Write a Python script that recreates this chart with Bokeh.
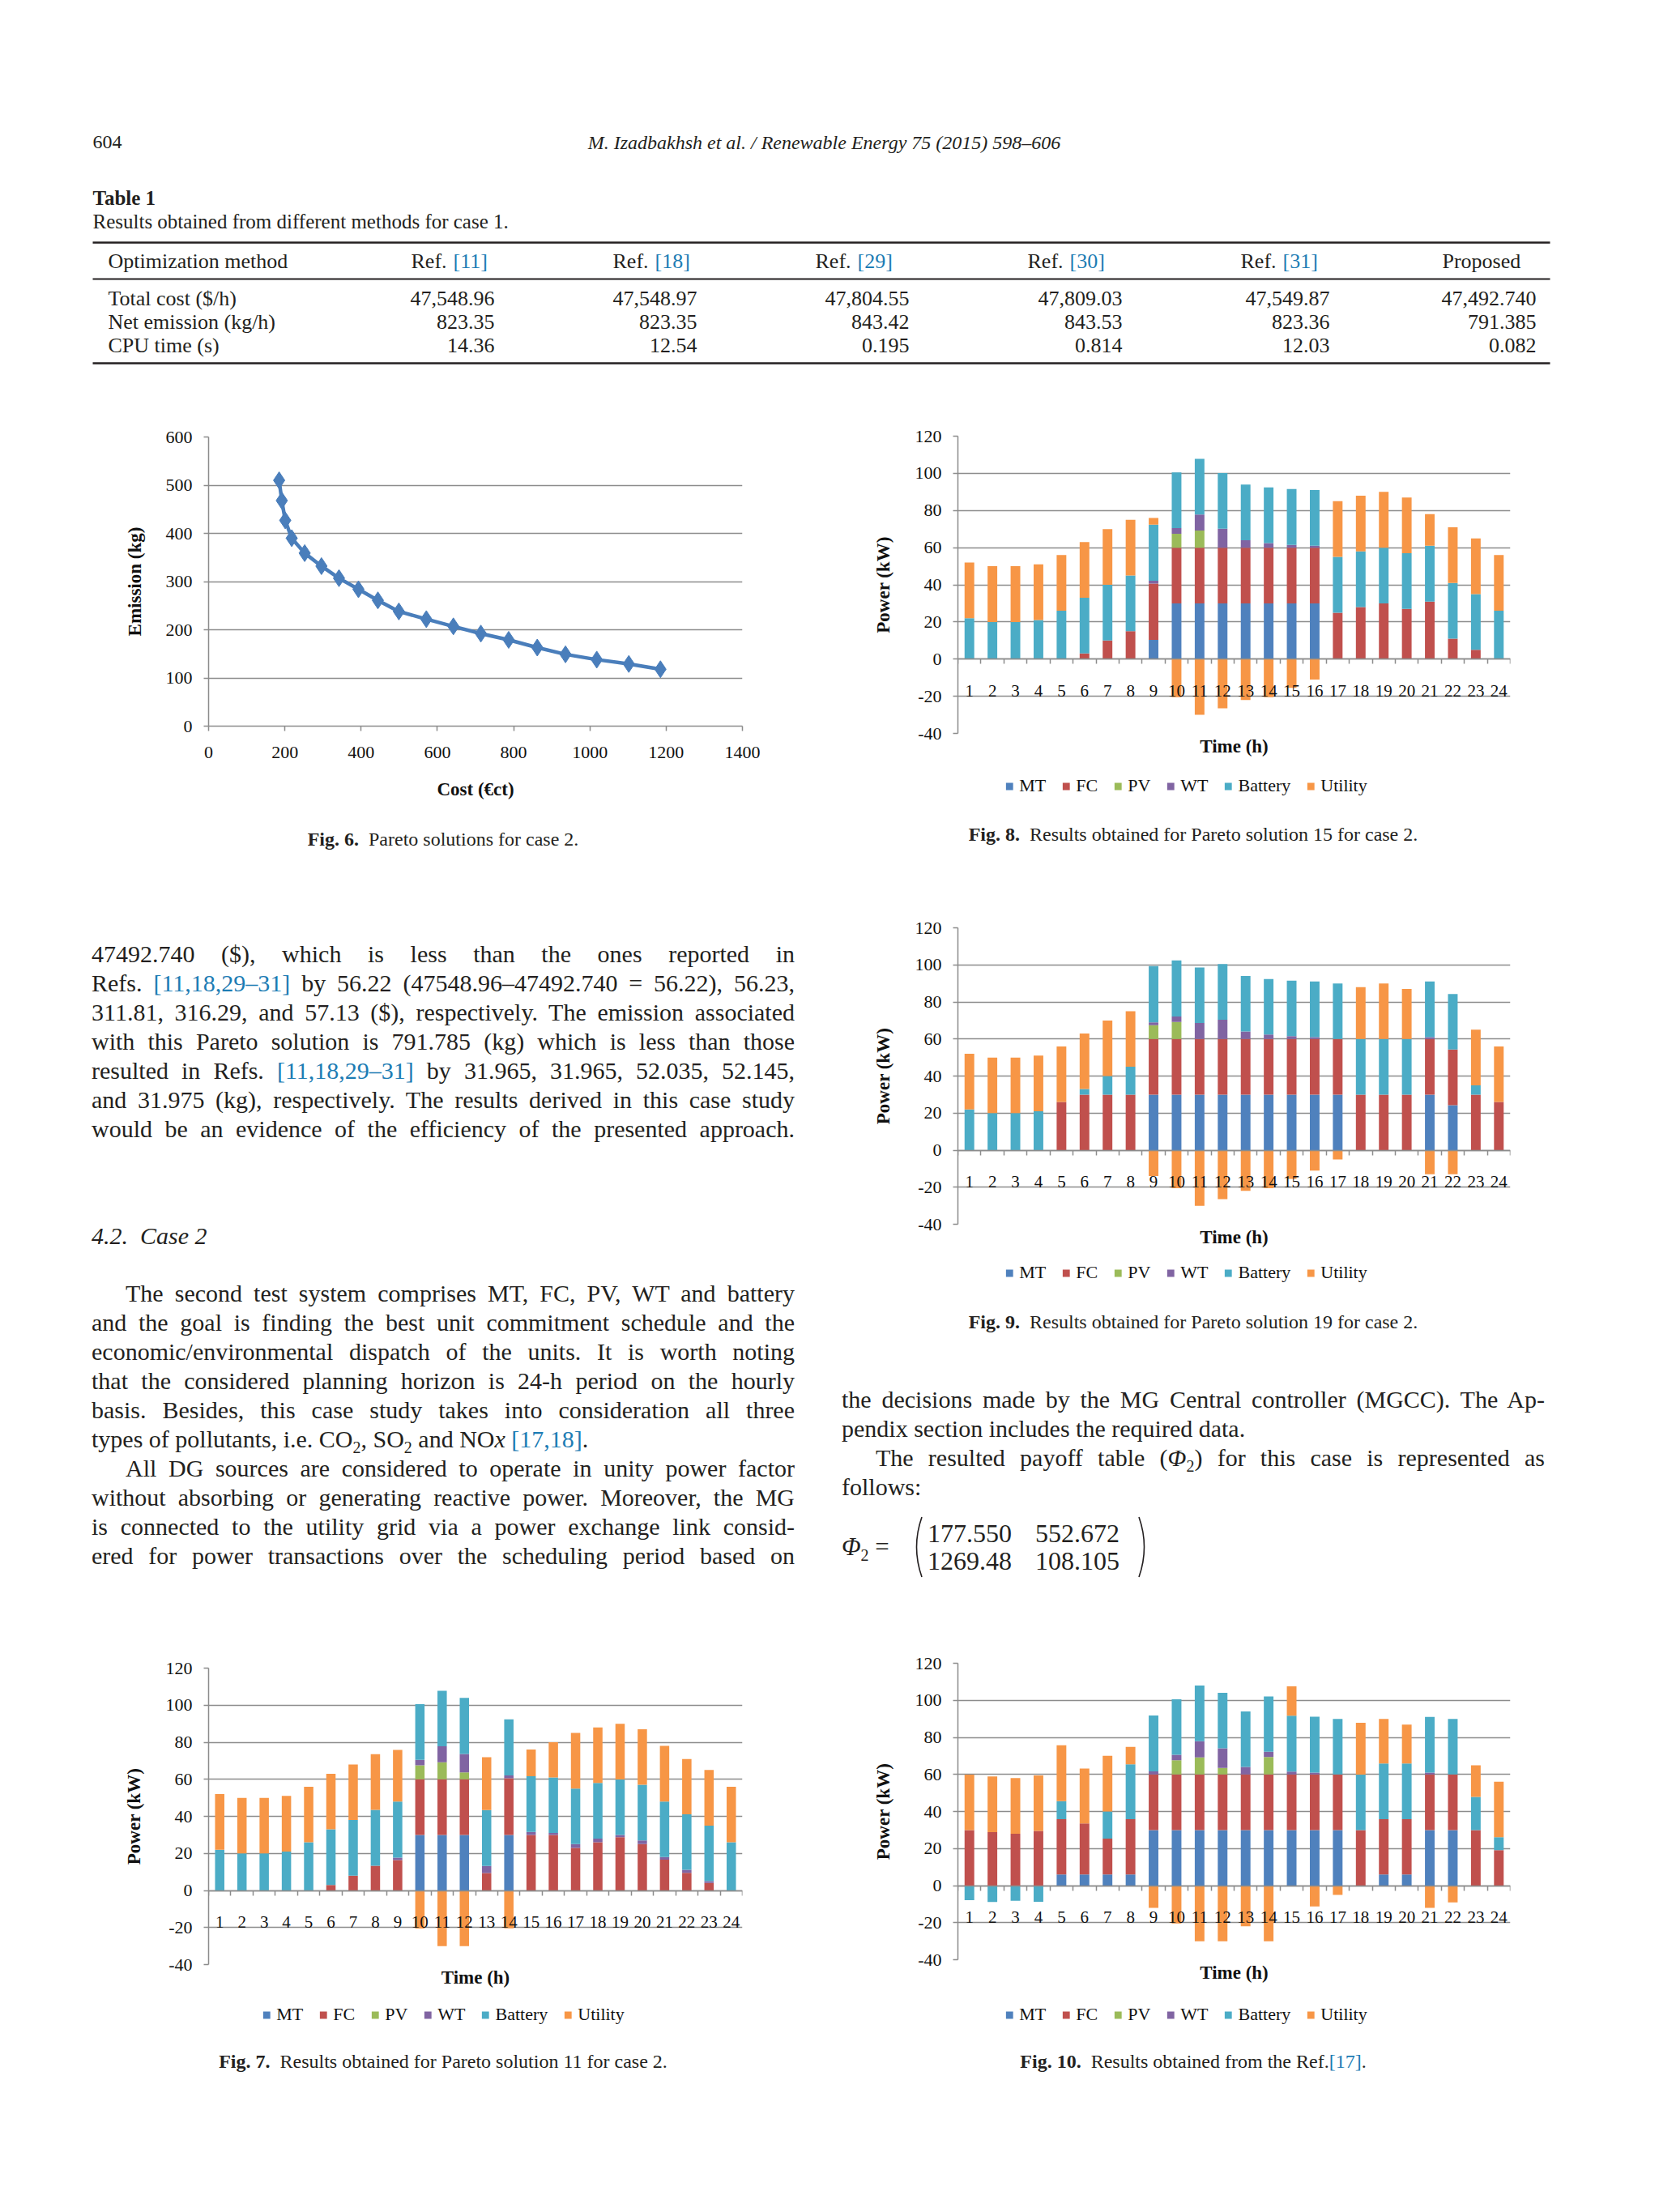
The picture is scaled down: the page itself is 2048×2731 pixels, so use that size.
from bokeh.plotting import figure
from bokeh.models import Range1d, FixedTicker, Legend, LegendItem, Title, Div, ColumnDataSource, Spacer
from bokeh.layouts import column, row
from bokeh.embed import file_html
from bokeh.resources import INLINE
from bokeh.core.properties import value

SERIF = "Liberation Serif"
GRID = "#8c8c8c"
TXT = "#231f20"
REF = "#1c7cb4"

# ---------------- data ----------------
# Table 1
table_methods = ["Ref. [11]", "Ref. [18]", "Ref. [29]", "Ref. [30]", "Ref. [31]", "Proposed"]
table_rows = ["Total cost ($/h)", "Net emission (kg/h)", "CPU time (s)"]
total_cost = ["47,548.96", "47,548.97", "47,804.55", "47,809.03", "47,549.87", "47,492.740"]
net_emission = ["823.35", "823.35", "843.42", "843.53", "823.36", "791.385"]
cpu_time = ["14.36", "12.54", "0.195", "0.814", "12.03", "0.082"]

# Fig. 6 Pareto front
pareto_cost = [185, 192, 201, 218, 252, 296, 342, 393, 444, 499, 571, 642, 714, 787, 862, 936, 1018, 1102, 1185]
pareto_emission = [510, 468, 427, 390, 359, 332, 307, 284, 261, 238, 222, 207, 192, 179, 163, 149, 138, 129, 118]
fig6_xticks = [0, 200, 400, 600, 800, 1000, 1200, 1400]
fig6_yticks = [0, 100, 200, 300, 400, 500, 600]

hours = list(range(1, 25))
power_ticks = [-40, -20, 0, 20, 40, 60, 80, 100, 120]
series_names = ["MT", "FC", "PV", "WT", "Battery", "Utility"]
series_colors = ["#4F81BD", "#C0504D", "#9BBB59", "#8064A2", "#4BACC6", "#F79646"]

# Fig. 7 - Pareto solution 11
f7_mt = [0, 0, 0, 0, 0, 0, 0, 0, 0, 30, 30, 30, 0, 30, 0, 0, 0, 0, 0, 0, 0, 0, 0, 0]
f7_fc = [0, 0, 0, 0, 0, 3, 8, 13.3, 16.4, 30, 30, 30, 9.4, 30.5, 30, 30, 23, 26, 28.7, 25, 16.6, 9.5, 4, 0]
f7_pv = [0, 0, 0, 0, 0, 0, 0, 0, 0, 7.5, 9.2, 3.7, 0, 0, 0, 0, 0, 0, 0, 0, 0, 0, 0, 0]
f7_wt = [0, 0, 0, 0, 0, 0, 0, 0, 1.3, 3, 8.6, 10, 3.8, 1.6, 1.6, 1, 2, 2, 1.2, 2, 1.4, 1.6, 1, 0]
f7_bat = [22, 20, 20, 21, 26, 30, 30, 30.2, 30.3, 30, 30, 30.2, 30.2, 30.2, 30, 30, 30, 30, 30, 30, 30, 30, 30, 26]
f7_util = [30, 30, 30, 30, 30, 30, 30, 30.1, 27.9, -20.5, -30, -30, 28.5, -20.4, 14.5, 19, 30, 30, 30, 30, 30, 29.8, 30, 30]

# Fig. 8 - Pareto solution 15
f8_mt = [0, 0, 0, 0, 0, 0, 0, 0, 10.4, 30, 30, 30, 30, 30, 30, 30, 0, 0, 0, 0, 0, 0, 0, 0]
f8_fc = [0, 0, 0, 0, 0, 3, 10, 15, 30.2, 30, 30, 30, 30, 30, 30, 30, 25, 28, 30, 27, 31, 11, 5, 0]
f8_pv = [0, 0, 0, 0, 0, 0, 0, 0, 0, 7.5, 9.2, 0, 0, 0, 0, 0, 0, 0, 0, 0, 0, 0, 0, 0]
f8_wt = [0, 0, 0, 0, 0, 0, 0, 0, 1.6, 3, 8.6, 10.2, 4, 2.4, 1.5, 1, 0, 0, 0, 0, 0, 0, 0, 0]
f8_bat = [22, 20, 20, 21, 26, 30, 30, 30, 30.2, 30, 30, 30, 30, 30, 30, 30, 30, 30, 30, 30, 30, 30, 30, 26]
f8_util = [30, 30, 30, 30, 30, 30, 30, 30, 3.6, -20.5, -30, -26.5, -22, -20.5, -15.5, -11, 30, 30, 30, 30, 17, 30, 30, 30]

# Fig. 9 - Pareto solution 19
f9_mt = [0, 0, 0, 0, 0, 0, 0, 0, 30, 30, 30, 30, 30, 30, 30, 30, 30, 0, 0, 0, 30, 24.3, 0, 0]
f9_fc = [0, 0, 0, 0, 26, 30, 30, 30, 30, 30, 30, 30, 30, 30, 30, 30, 30, 30, 30, 30, 30, 30, 30, 26]
f9_pv = [0, 0, 0, 0, 0, 0, 0, 0, 7.4, 9.2, 0, 0, 0, 0, 0, 0, 0, 0, 0, 0, 0, 0, 0, 0]
f9_wt = [0, 0, 0, 0, 0, 0, 0, 0, 1.6, 2.9, 8.6, 10.4, 4, 2.4, 1.5, 1, 0, 0, 0, 0, 1, 0, 0, 0]
f9_bat = [22, 20, 20, 21, 0, 3, 10, 15, 30.3, 30.3, 30, 30, 30, 30, 30, 30, 30, 30, 30, 30, 30, 30, 5, 0]
f9_util = [30, 30, 30, 30, 30, 30, 30, 30, -14, -20.5, -30, -26.5, -22, -20.5, -15.5, -11, -5, 28, 30, 27, -13, -13, 30, 30]

# Fig. 10 - Ref. [17]
f10_mt = [0, 0, 0, 0, 6, 6, 6, 6, 30, 30, 30, 30, 30, 30, 30, 30, 30, 0, 6, 6, 30, 30, 0, 0]
f10_fc = [29.9, 28.9, 28, 29.5, 29.8, 27.6, 19.4, 29.9, 30, 30, 30, 30, 30, 30, 30, 30, 30, 29.9, 29.9, 29.9, 30, 30, 29.9, 19.1]
f10_pv = [0, 0, 0, 0, 0, 0, 0, 0, 0, 7.6, 9.2, 3.5, 0, 9.4, 0, 0, 0, 0, 0, 0, 0, 0, 0, 0]
f10_wt = [0, 0, 0, 0, 0, 0, 0, 0, 1.6, 3, 8.7, 10.6, 4, 2.8, 1.5, 1, 0, 0, 0, 0, 1, 0, 0, 0]
f10_bat = [-7.9, -8.8, -8.2, -8.7, 9.8, 0, 14.6, 29.6, 30.2, 30, 30.1, 29.9, 30, 29.9, 30.2, 30.2, 29.9, 30, 30, 30, 30, 29.9, 18, 7]
f10_util = [30, 30, 30, 30, 30.1, 29.6, 30.1, 9.4, -12, -20.4, -30, -30, -22, -30, 15.8, -11.3, -5, 28, 24, 21, -12, -9.1, 17, 30]


# ---------------- helpers ----------------
def stack(series_list):
    pos = [0.0] * len(hours)
    neg = [0.0] * len(hours)
    out = []
    for vals in series_list:
        b, t = [], []
        for i, v in enumerate(vals):
            if v >= 0:
                b.append(pos[i]); t.append(pos[i] + v); pos[i] += v
            else:
                b.append(neg[i]); t.append(neg[i] + v); neg[i] += v
        out.append((b, t))
    return out


def style_axis(ax, size="21px"):
    ax.axis_line_color = GRID
    ax.axis_line_width = 1.5
    ax.major_tick_line_color = GRID
    ax.major_tick_line_width = 1.5
    ax.minor_tick_line_color = None
    ax.major_label_text_font = SERIF
    ax.major_label_text_font_size = size
    ax.major_label_text_color = "#111111"
    ax.axis_label_text_font = SERIF
    ax.axis_label_text_font_size = "23px"
    ax.axis_label_text_font_style = "bold"
    ax.axis_label_text_color = "#111111"


def bar_chart(series, top, frame_h, bottom, left, frame_w, right):
    p = figure(width=left + frame_w + right, height=top + frame_h + bottom,
               x_range=Range1d(0.5, 24.5), y_range=Range1d(-40, 120),
               output_backend="svg", toolbar_location=None,
               min_border_left=left, min_border_right=right,
               min_border_top=top, min_border_bottom=bottom,
               background_fill_color="white", border_fill_color="white")
    p.outline_line_color = None
    p.xgrid.visible = False
    p.ygrid.grid_line_color = GRID
    p.ygrid.grid_line_width = 1.5
    p.yaxis.ticker = FixedTicker(ticks=power_ticks)
    style_axis(p.yaxis[0], "22px")
    p.yaxis.major_label_overrides = {t: str(t) for t in power_ticks}
    p.yaxis.major_tick_in = 0
    p.yaxis.major_tick_out = 6
    p.yaxis.major_label_standoff = 14
    p.yaxis.axis_label = "Power (kW)"
    p.yaxis.axis_label_standoff = 24

    boundaries = [h - 0.5 for h in hours] + [hours[-1] + 0.5]
    p.xaxis.ticker = FixedTicker(ticks=hours, minor_ticks=boundaries)
    p.xaxis.fixed_location = 0
    style_axis(p.xaxis[0])
    p.xaxis.major_tick_in = 0
    p.xaxis.major_tick_out = 0
    p.xaxis.minor_tick_line_color = GRID
    p.xaxis.minor_tick_line_width = 1.5
    p.xaxis.minor_tick_in = 0
    p.xaxis.minor_tick_out = 6
    p.xaxis.major_label_standoff = 26

    sources = []
    for (b, t), name, col in zip(stack(series), series_names, series_colors):
        src = ColumnDataSource(dict(x=hours, bottom=b, top=t))
        p.vbar(x="x", bottom="bottom", top="top", width=0.42, source=src,
               fill_color=col, line_color=None)
        sources.append(src)

    p.add_layout(Title(text="Time (h)", align="center", text_font=SERIF,
                       text_font_size="23px", text_font_style="bold",
                       text_color="#111111", standoff=2), "below")
    return p, sources


def legend_fig(width, height, sources):
    # the series legend of a chart, drawn in a strip under the chart
    p = figure(width=width, height=height, x_range=Range1d(0.5, 24.5), y_range=Range1d(500, 501),
               output_backend="svg", toolbar_location=None, min_border=0,
               x_axis_type=None, y_axis_type=None,
               background_fill_color="white", border_fill_color="white")
    p.grid.visible = False
    p.outline_line_color = None
    items = []
    for src, name, col in zip(sources, series_names, series_colors):
        r = p.vbar(x="x", bottom="bottom", top="top", width=0.42, source=src,
                   fill_color=col, line_color=None)
        items.append(LegendItem(label=name, renderers=[r]))
    leg = Legend(items=items, orientation="horizontal", location="center",
                 glyph_width=11, glyph_height=11, label_standoff=7, spacing=19,
                 padding=0, margin=0, border_line_color=None,
                 background_fill_alpha=0,
                 label_text_font=SERIF, label_text_font_size="22px",
                 label_text_color="#111111")
    p.add_layout(leg)
    return p


def text_block(width, height, items, lh=36):
    parts = [f'<div style="position:relative;width:{width}px;height:{height}px;'
             f'font-family:\'{SERIF}\',serif;color:{TXT};">']
    for it in items:
        x, yc, w, html, align, size = it[:6]
        extra = it[6] if len(it) > 6 else ""
        parts.append(
            f'<div style="position:absolute;left:{x}px;top:{yc - lh / 2}px;width:{w}px;'
            f'height:{lh}px;line-height:{lh}px;font-size:{size}px;text-align:{align};'
            f'text-align-last:{align};{extra}">{html}</div>')
    parts.append('</div>')
    return Div(text="".join(parts), width=width, height=height, margin=0)


def ref(s):
    return f'<span style="color:{REF}">{s}</span>'


# ---------------- header + table ----------------
top = figure(width=2040, height=480, x_range=Range1d(0, 2040), y_range=Range1d(480, 0),
             output_backend="svg", toolbar_location=None, min_border=0,
             x_axis_type=None, y_axis_type=None,
             background_fill_color="white", border_fill_color="white")
top.grid.visible = False
top.outline_line_color = None


def ttext(x, y, s, align="left", size="25px", style="normal", color=TXT):
    top.text(x=x, y=y, text=s, text_font=value(SERIF), text_font_size=size,
             text_font_style=style, text_align=align, text_baseline="middle",
             text_color=color)


ttext([114], [175], ["604"], size="24px")
ttext([1017], [175], ["M. Izadbakhsh et al. / Renewable Energy 75 (2015) 598\u2013606"],
      align="center", size="24px", style="italic")
ttext([114], [244], ["Table 1"], style="bold")
ttext([114], [273], ["Results obtained from different methods for case 1."])
top.segment(x0=[114, 114, 114], x1=[1913, 1913, 1913], y0=[299, 344, 448], y1=[299, 344, 448],
            line_color="#231f20", line_width=[2.6, 1.8, 2.6])
head_left = [507, 756, 1006, 1268, 1531, 1780]
col_right = [610, 860, 1122, 1385, 1641, 1896]
ttext([133], [322], ["Optimization method"], size="26px")
ref_part = [m.split(" ")[1] for m in table_methods[:5]]
ttext(head_left[:5], [322] * 5, ["Ref."] * 5, size="26px")
ttext([x + 52 for x in head_left[:5]], [322] * 5, ref_part, color=REF, size="26px")
ttext([head_left[5]], [322], [table_methods[5]], size="26px")
ttext([133] * 3, [368, 397, 426], table_rows, size="26px")
for vals, yy in zip([total_cost, net_emission, cpu_time], [368, 397, 426]):
    ttext(col_right, [yy] * 6, vals, align="right", size="26px")

# ---------------- Fig. 6 ----------------
p6 = figure(width=1024, height=520, x_range=Range1d(0, 1400), y_range=Range1d(0, 600),
            output_backend="svg", toolbar_location=None,
            min_border_left=257, min_border_right=108, min_border_top=59, min_border_bottom=104,
            background_fill_color="white", border_fill_color="white")
p6.outline_line_color = None
p6.xgrid.visible = False
p6.ygrid.grid_line_color = GRID
p6.ygrid.grid_line_width = 1.5
p6.xaxis.ticker = FixedTicker(ticks=fig6_xticks)
p6.yaxis.ticker = FixedTicker(ticks=fig6_yticks)
style_axis(p6.xaxis[0], "22px")
style_axis(p6.yaxis[0], "22px")
p6.axis.major_tick_in = 0
p6.axis.major_tick_out = 6
p6.xaxis.major_label_standoff = 19
p6.yaxis.major_label_standoff = 14
p6.xaxis.axis_label = "Cost (\u20acct)"
p6.yaxis.axis_label = "Emission (kg)"
p6.xaxis.axis_label_standoff = 23
p6.yaxis.axis_label_standoff = 23
p6.line(pareto_cost, pareto_emission, line_color="#4A7EBB", line_width=4.5)
p6.scatter(pareto_cost, pareto_emission, marker="diamond", size=21,
           fill_color="#4A7EBB", line_color="#4A7EBB")

# ---------------- bar charts ----------------
p8, s8 = bar_chart([f8_mt, f8_fc, f8_pv, f8_wt, f8_bat, f8_util], 58, 367, 45, 158, 682, 176)
p9, s9 = bar_chart([f9_mt, f9_fc, f9_pv, f9_wt, f9_bat, f9_util], 85, 366, 45, 158, 682, 176)
p7, s7 = bar_chart([f7_mt, f7_fc, f7_pv, f7_wt, f7_bat, f7_util], 79, 366, 45, 257, 682, 85)
p10, s10 = bar_chart([f10_mt, f10_fc, f10_pv, f10_wt, f10_bat, f10_util], 93, 366, 45, 158, 682, 176)

# legends are centred on the text column (centre x = 1473 right, 547 left)
leg8 = legend_fig(898, 40, s8)
leg9 = legend_fig(898, 30, s9)
leg10 = legend_fig(898, 46, s10)
leg7 = row(Spacer(width=100, height=34), legend_fig(894, 34, s7), spacing=0)

# ---------------- text blocks ----------------
LX, RX, CW, IND = 113, 15, 868, 42
BODY = 30
J = "justify"
SUB = "<sub style='font-size:20px;line-height:0'>2</sub>"

left_items = [
    (LX, 36, CW, "<b>Fig. 6.</b>&nbsp; Pareto solutions for case 2.", "center", 24),
    (LX, 178, CW, "47492.740 ($), which is less than the ones reported in", J, BODY),
    (LX, 214, CW, "Refs. " + ref("[11,18,29\u201331]") + " by 56.22 (47548.96\u201347492.740 = 56.22), 56.23,", J, BODY),
    (LX, 250, CW, "311.81, 316.29, and 57.13 ($), respectively. The emission associated", J, BODY),
    (LX, 286, CW, "with this Pareto solution is 791.785 (kg) which is less than those", J, BODY),
    (LX, 322, CW, "resulted in Refs. " + ref("[11,18,29\u201331]") + " by 31.965, 31.965, 52.035, 52.145,", J, BODY),
    (LX, 358, CW, "and 31.975 (kg), respectively. The results derived in this case study", J, BODY),
    (LX, 394, CW, "would be an evidence of the efficiency of the presented approach.", J, BODY),
    (LX, 526, CW, "<i>4.2.&nbsp;&nbsp;Case 2</i>", "left", BODY),
    (LX + IND, 597, CW - IND, "The second test system comprises MT, FC, PV, WT and battery", J, BODY),
    (LX, 633, CW, "and the goal is finding the best unit commitment schedule and the", J, BODY),
    (LX, 669, CW, "economic/environmental dispatch of the units. It is worth noting", J, BODY),
    (LX, 705, CW, "that the considered planning horizon is 24-h period on the hourly", J, BODY),
    (LX, 741, CW, "basis. Besides, this case study takes into consideration all three", J, BODY),
    (LX, 777, CW, "types of pollutants, i.e. CO" + SUB + ", SO" + SUB + " and NO<i>x</i> " + ref("[17,18]") + ".", "left", BODY),
    (LX + IND, 813, CW - IND, "All DG sources are considered to operate in unity power factor", J, BODY),
    (LX, 849, CW, "without absorbing or generating reactive power. Moreover, the MG", J, BODY),
    (LX, 885, CW, "is connected to the utility grid via a power exchange link consid-", J, BODY),
    (LX, 921, CW, "ered for power transactions over the scheduling period based on", J, BODY),
]
text_left = text_block(1024, 980, left_items)

paren_l = ("<svg width='16' height='78' style='display:block'><path d='M14 2 Q 1 39 14 76' "
           "stroke='#231f20' stroke-width='1.6' fill='none'/></svg>")
paren_r = ("<svg width='16' height='78' style='display:block'><path d='M2 2 Q 15 39 2 76' "
           "stroke='#231f20' stroke-width='1.6' fill='none'/></svg>")
right_items = [
    (RX, 46, CW, "<b>Fig. 9.</b>&nbsp; Results obtained for Pareto solution 19 for case 2.", "center", 24),
    (RX, 142, CW, "the decisions made by the MG Central controller (MGCC). The Ap-", J, BODY),
    (RX, 178, CW, "pendix section includes the required data.", "left", BODY),
    (RX + IND, 214, CW - IND, "The resulted payoff table (<i>\u03a6</i>" + SUB + ") for this case is represented as", J, BODY),
    (RX, 250, CW, "follows:", "left", BODY),
    (RX, 324, 90, "<i>\u03a6</i>" + SUB + " =", "left", 31),
    (121, 307, 120, "177.550", "left", 32),
    (121, 341, 120, "1269.48", "left", 32),
    (254, 307, 130, "552.672", "left", 32),
    (254, 341, 130, "108.105", "left", 32),
    (100, 324, 16, paren_l, "left", 31, "height:78px;top:285px;"),
    (380, 324, 16, paren_r, "left", 31, "height:78px;top:285px;"),
]
text_right = text_block(1016, 374, right_items)

cap8 = text_block(1016, 70, [(RX, 40, CW, "<b>Fig. 8.</b>&nbsp; Results obtained for Pareto solution 15 for case 2.", "center", 24)])
cap7 = text_block(1024, 96, [(LX, 41, CW, "<b>Fig. 7.</b>&nbsp; Results obtained for Pareto solution 11 for case 2.", "center", 24)])
cap10 = text_block(1016, 90, [(RX, 35, CW, "<b>Fig. 10.</b>&nbsp; Results obtained from the Ref." + ref("[17]") + ".", "center", 24)])

left_col = column(p6, text_left, p7, leg7, cap7, spacing=0)
right_col = column(p8, leg8, cap8, p9, leg9, text_right, p10, leg10, cap10, spacing=0)
page = column(top, row(left_col, right_col, spacing=0), spacing=0)

open("out.html", "w").write(file_html(page, INLINE, title="Renewable Energy 75 (2015) 598-606"))
